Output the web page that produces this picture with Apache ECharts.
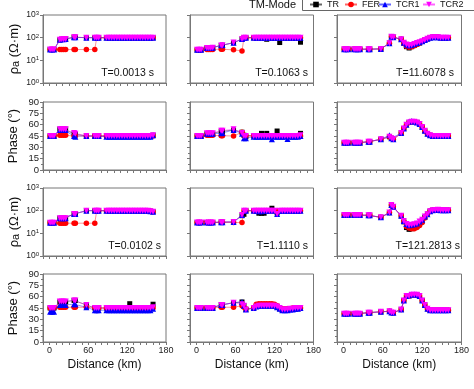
<!DOCTYPE html>
<html><head><meta charset="utf-8">
<script src="https://cdn.jsdelivr.net/npm/echarts@6/dist/echarts.min.js"></script>
<style>html,body{margin:0;padding:0;background:#fff}#c{width:474px;height:389px}</style>
</head><body><div id="c"></div>
<script>
const distance = [1,4,7,16,19,22,25,38,40,57,70,73,76,88,92,96,100,104,108,112,116,120,124,128,132,136,140,144,148,152,156,160];
const seriesNames = ['TR','FER','TCR1','TCR2'];
const periodLabels = ['T=0.0013 s','T=0.1063 s','T=11.6078 s','T=0.0102 s','T=1.1110 s','T=121.2813 s'];
const rhoTicks = [1,10,100,1000];
const phaseTicks = [0,15,30,45,60,75,90];
const distanceTicks = [0,60,120,180];

// ---- Apparent resistivity, T=0.0013 s
const rhoA_TR   = [30,30,30,80,85,85,88,104,104,100,100,100,100,100,100,100,100,100,100,100,100,100,100,100,100,100,100,100,100,100,100,100];
const rhoA_FER  = [30,30,30,30,30,30,30,30,30,30,30,100,100,100,100,100,100,100,100,100,100,100,100,100,100,100,100,100,100,100,100,100];
const rhoA_TCR1 = [30,30,30,80,85,85,88,104,104,100,100,100,100,100,100,100,100,100,100,100,100,100,100,100,100,100,100,100,100,100,100,100];
const rhoA_TCR2 = [30,30,30,80,85,85,88,105,105,100,100,100,100,100,100,100,100,100,100,100,100,100,100,100,100,100,100,100,100,100,100,100];
// ---- T=0.1063 s
const rhoB_TR   = [29,29,29,35,35,35,36,45,46,60,86,98,100,100,100,100,100,100,85,100,100,100,100,61,100,100,100,100,100,100,100,63];
const rhoB_FER  = [29,29,29,30,30,30,30,31,31,29,26,98,100,100,100,100,100,100,100,100,100,100,100,100,100,100,100,100,100,100,100,100];
const rhoB_TCR1 = [29,29,29,35,35,35,36,46,47,60,88,100,100,100,100,98,100,100,98,100,100,100,100,100,100,100,100,100,100,100,100,100];
const rhoB_TCR2 = [29,29,29,35,35,35,36,45,46,61,88,100,100,100,100,98,100,100,98,100,100,100,100,100,98,100,100,100,100,100,100,100];
// ---- T=11.6078 s
const rhoC_TR   = [31,31,31,31,31,31,31,31,31,32,57,110,105,85,58,40,35,40,46,52,58,68,78,90,100,105,105,105,100,100,100,100];
const rhoC_FER  = [31,31,31,31,31,31,31,31,31,32,57,110,105,85,55,42,38,40,44,50,58,68,78,90,100,105,105,105,100,100,100,100];
const rhoC_TCR1 = [31,31,31,31,31,31,31,31,31,32,57,110,105,85,60,50,45,48,52,58,62,70,78,90,100,105,105,105,100,100,100,100];
const rhoC_TCR2 = [31,31,31,31,31,31,31,31,31,32,57,110,105,85,60,50,45,48,52,58,62,70,78,90,100,105,105,105,100,100,100,100];
// ---- Phase, T=0.0013 s
const phD_TR   = [45,45,45,54,54,54,54,48,47,45,45,45,45,45,45,45,45,45,45,45,45,45,45,45,45,45,45,45,45,45,45,46];
const phD_FER  = [45,45,45,46,46,46,46,45,45,45,45,45,45,45,45,45,45,45,45,45,45,45,45,45,45,45,45,45,45,45,45,45];
const phD_TCR1 = [45,45,45,53,53,53,53,45,44,45,45,45,45,44,44,44,44,44,44,44,44,44,44,44,44,44,44,44,44,44,44,46];
const phD_TCR2 = [45,45,45,54,54,54,54,49,48,45,45,45,45,45,45,45,45,45,45,45,45,45,45,45,45,45,45,45,45,45,45,46];
// ---- Phase, T=0.1063 s
const phE_TR   = [45,45,45,48,48,48,48,51,51,53,50,46,44,45,45,45,48.5,45,48.5,45,45,45,51.6,45,45,45,45,45,45,45,45,48.5];
const phE_FER  = [45,45,45,46,46,46,46,45.4,45.4,45,50,46,45,45,45,45,45,45,45,45,45,45,45,45,45,45,45,45,45,45,45,45];
const phE_TCR1 = [45,45,45,48,48,48,48,48.5,49,53,48,42,42,44,44,44,44,44,44,44,40.6,44,44,44,44,44,41,44,44,44,44,45];
const phE_TCR2 = [45,45,45,48.5,48.5,48.5,48.5,52,52,54,49,45,45,45,45,45,45,45,45,45,45,45,45,45,45,45,45,45,45,45,45,46];
// ---- Phase, T=11.6078 s
const phF_TR   = [36,36,36,36,36,36,36,37.4,37.4,40.6,44,42,40.6,49,55,60,63,64,64,63,61,57,52,48,46,45,45,45,45,45,45,45];
const phF_FER  = [36,36,36,36,36,36,36,37.4,37.4,40.6,44,42,40.6,49,55,60,63,64,64,63,61,57,52,48,46,45,45,45,45,45,45,45];
const phF_TCR1 = [36,36,36,36,36,36,36,37.4,37.4,40.6,46,42,40.6,49,55,60,64,65,64,63,61,57,52,48,46,45,45,45,45,45,45,45];
const phF_TCR2 = [36,36,36,36,36,36,36,37.4,37.4,40.6,44,42,40.6,49,55,60,63,64,64,63,61,57,52,48,46,45,45,45,45,45,45,45];
// ---- Apparent resistivity, T=0.0102 s
const rhoG_TR   = [29.5,29.5,29.5,46,46,46,46,71,71,100,100,100,100,100,100,100,100,100,100,100,100,100,100,100,100,100,100,100,100,100,95,90];
const rhoG_FER  = [29,29,29,28,28,28,28,28,28,28,28,100,100,100,100,100,100,100,100,100,100,100,100,100,100,100,100,100,100,100,95,90];
const rhoG_TCR1 = [29.5,29.5,29.5,46,46,46,46,71,71,100,100,100,100,100,100,100,100,100,100,100,100,100,100,100,100,100,100,100,100,100,95,90];
const rhoG_TCR2 = [29.5,29.5,29.5,46,46,46,46,71,71,100,100,100,100,100,100,100,100,100,100,100,100,100,100,100,100,100,100,100,100,100,95,90];
// ---- T=1.1110 s
const rhoH_TR   = [30,30,30,30,30,30,30,31,31,32,60,69,100,100,100,77,77,77,100,100,128,100,80,100,100,100,100,100,100,100,100,100];
const rhoH_FER  = [30,30,30,30,30,30,30,31,31,30,30,100,100,100,100,100,100,100,100,100,100,100,100,100,100,100,100,100,100,100,100,100];
const rhoH_TCR1 = [30,30,30,30,30,30,30,31,31,32,64,100,100,100,100,95,95,100,100,100,105,100,72,100,100,100,100,100,100,100,100,100];
const rhoH_TCR2 = [30,30,30,30,30,30,30,31,31,32,64,100,100,100,100,100,100,100,100,100,100,100,72,100,100,100,100,100,100,100,100,100];
// ---- T=121.2813 s
const rhoI_TR   = [64,64,64,64,64,64,64,62,62,51,82,178,150,59,32,18,15,16,18,21,26,35,52,70,95,105,107,110,105,105,105,105];
const rhoI_FER  = [64,64,64,64,64,64,64,62,62,51,82,178,150,59,33,20,17,16,16,18,22,30,48,70,95,105,107,110,105,105,105,105];
const rhoI_TCR1 = [64,64,64,64,64,64,64,62,62,51,82,178,150,59,35,26,23,24,25,27,33,40,55,70,95,105,107,110,105,105,105,105];
const rhoI_TCR2 = [64,64,64,64,64,64,64,62,62,51,82,178,150,59,35,26,23,24,25,27,33,40,55,70,95,105,107,110,105,105,105,105];
// ---- Phase, T=0.0102 s
const phJ_TR   = [45,45,45,53,53,53,53,55,55,49,45,45,45,45,45,45,45,45,45,45,45,45,50.7,45,45,45,45,45,45,45,45,50];
const phJ_FER  = [45,45,45,46,46,46,46,46,46,46,45,45,45,45,45,45,45,45,45,45,45,45,45,45,45,45,45,45,45,45,45,45];
const phJ_TCR1 = [40,40,40,49,49,49,49,50,50,46,42,42,42,42,42,42,42,42,42,42,42,42,42,42,42,42,42,42,42,42,42,44];
const phJ_TCR2 = [45,45,45,53.7,53.7,53.7,53.7,55,55,49,45,45,45,45,45,45,45,45,45,45,45,45,45,45,45,45,45,45,45,45,45,46];
// ---- Phase, T=1.1110 s
const phK_TR   = [45,45,45,45,45,45,45,49,49,52,53,48,43,45,47,48,48,48,48,48,48,48,46,44,42,42,42,43,43,44,44,45];
const phK_FER  = [45,45,45,45,45,45,45,46,46,46,48,46,44,45,50,50.7,50.7,50.7,50.7,50.7,50.7,50,48,45,44,44,44,44,45,45,45,45];
const phK_TCR1 = [45,45,45,45,45,45,45,49,49,52,53,48,43,45,47,48,48,48,48,48,48,48,46,44,42,42,42,43,43,44,44,45];
const phK_TCR2 = [45,45,45,45,45,45,45,49,49,52,50,48,43,45,47,48,48,48,48,48,48,48,47,45,43,43,43,44,44,45,45,45];
// ---- Phase, T=121.2813 s
const phL_TR   = [37.5,37.5,37.5,37.5,37.5,37.5,37.5,38.8,38.8,40,40.6,39,38.8,43,55,61,61,62.6,62.6,62.6,61,55,49,44,42,42,42,42,42,42,42,42];
const phL_FER  = [37.5,37.5,37.5,37.5,37.5,37.5,37.5,38.8,38.8,40,40.6,39,38.8,43,55,61,61,62.6,62.6,62.6,61,55,49,44,42,42,42,42,42,42,42,42];
const phL_TCR1 = [37.5,37.5,37.5,37.5,37.5,37.5,37.5,38.8,38.8,40,40.6,39,38.8,43,55,61,62,63,63,62.6,61,55,49,44,42,42,42,42,42,42,42,42];
const phL_TCR2 = [37.5,37.5,37.5,37.5,37.5,37.5,37.5,38.8,38.8,40,40.6,39,38.8,43,55,61,61,62.6,62.6,62.6,61,55,49,44,42,42,42,42,42,42,42,42];

// ---- layout (not data)
const FONT = 'Liberation Sans, Arial, sans-serif';
const colLeft = [43, 190, 337];
const colWidth = [123, 123.5, 124.5];
const rowTop = [15, 102, 188, 274];
const rowH = 68;
const colors = ['#000000', '#ff0000', '#0000ff', '#ff00ff'];
const symbols = ['rect', 'circle', 'triangle', 'path://M0,0L10,0L5,10Z'];
const symSizes = [5, 5.5, 6, 6];

const panels = [
  {r:0,c:0,kind:'rho',lab:0,d:[rhoA_TR,rhoA_FER,rhoA_TCR1,rhoA_TCR2]},
  {r:0,c:1,kind:'rho',lab:1,d:[rhoB_TR,rhoB_FER,rhoB_TCR1,rhoB_TCR2]},
  {r:0,c:2,kind:'rho',lab:2,d:[rhoC_TR,rhoC_FER,rhoC_TCR1,rhoC_TCR2]},
  {r:1,c:0,kind:'ph',d:[phD_TR,phD_FER,phD_TCR1,phD_TCR2]},
  {r:1,c:1,kind:'ph',d:[phE_TR,phE_FER,phE_TCR1,phE_TCR2]},
  {r:1,c:2,kind:'ph',d:[phF_TR,phF_FER,phF_TCR1,phF_TCR2]},
  {r:2,c:0,kind:'rho',lab:3,d:[rhoG_TR,rhoG_FER,rhoG_TCR1,rhoG_TCR2]},
  {r:2,c:1,kind:'rho',lab:4,d:[rhoH_TR,rhoH_FER,rhoH_TCR1,rhoH_TCR2]},
  {r:2,c:2,kind:'rho',lab:5,d:[rhoI_TR,rhoI_FER,rhoI_TCR1,rhoI_TCR2]},
  {r:3,c:0,kind:'ph',d:[phJ_TR,phJ_FER,phJ_TCR1,phJ_TCR2]},
  {r:3,c:1,kind:'ph',d:[phK_TR,phK_FER,phK_TCR1,phK_TCR2]},
  {r:3,c:2,kind:'ph',d:[phL_TR,phL_FER,phL_TCR1,phL_TCR2]}
];
const labelRight = [[154,308,454],[161,308,460]];

const axisCol = '#777';
const grids = [], xAxes = [], yAxes = [], series = [], graphics = [];
panels.forEach((p, i) => {
  grids.push({left: colLeft[p.c], top: rowTop[p.r], width: colWidth[p.c], height: rowH,
    show: true, borderColor: axisCol, borderWidth: 1, backgroundColor: 'transparent'});
  const bottom = p.r === 3;
  xAxes.push({gridIndex: i, type: 'value', min: -10, max: 180, interval: 10,
    axisLine: {show: true, onZero: false, lineStyle: {color: axisCol, width: 1}},
    axisTick: {show: true, length: 3, interval: 0, lineStyle: {color: axisCol}},
    axisLabel: {show: bottom, interval: 0, showMaxLabel: true, showMinLabel: true, fontSize: 9, fontFamily: FONT, color: '#222', margin: 4,
      formatter: v => distanceTicks.indexOf(v) >= 0 ? String(v) : ''},
    splitLine: {show: false},
    name: bottom ? 'Distance (km)' : '', nameLocation: 'middle', nameGap: 17,
    nameTextStyle: {fontSize: 12, fontFamily: FONT, color: '#111'}});
  if (p.kind === 'rho') {
    yAxes.push({gridIndex: i, type: 'log', logBase: 10, min: rhoTicks[0], max: rhoTicks[rhoTicks.length-1], splitNumber: 3,
      axisLine: {show: true, onZero: false, lineStyle: {color: axisCol}},
      axisTick: {show: true, length: 3, lineStyle: {color: axisCol}},
      splitLine: {show: false},
      axisLabel: {show: p.c === 0, margin: 4, fontFamily: FONT,
        formatter: v => '{b|10}{s|' + Math.round(Math.log10(v)) + '}',
        rich: {b: {fontSize: 8.5, color: '#222', fontFamily: FONT, verticalAlign: 'bottom'},
               s: {fontSize: 6, color: '#222', fontFamily: FONT, verticalAlign: 'top'}}},
      name: p.c === 0 ? '{g|ρ}{s|a}{g| (Ω·m)}' : '', nameLocation: 'middle', nameRotate: 90, nameGap: 22,
      nameTextStyle: {fontSize: 13, fontFamily: FONT, color: '#111',
        rich: {g: {fontSize: 13, fontFamily: FONT, color: '#111'}, s: {fontSize: 11, fontFamily: FONT, color: '#111', verticalAlign: 'bottom'}}}});
  } else {
    yAxes.push({gridIndex: i, type: 'value', min: phaseTicks[0], max: phaseTicks[phaseTicks.length-1], interval: 15,
      axisLine: {show: true, onZero: false, lineStyle: {color: axisCol}},
      axisTick: {show: true, length: 3, lineStyle: {color: axisCol}},
      minorTick: {show: true, splitNumber: 2, length: 2, lineStyle: {color: axisCol}},
      splitLine: {show: false},
      axisLabel: {show: p.c === 0, margin: 4, fontSize: 9.5, fontFamily: FONT, color: '#222'},
      name: p.c === 0 ? 'Phase (°)' : '', nameLocation: 'middle', nameRotate: 90, nameGap: 23,
      nameTextStyle: {fontSize: 13, fontFamily: FONT, color: '#111'}});
  }
  p.d.forEach((arr, k) => {
    series.push({type: 'line', name: seriesNames[k], xAxisIndex: i, yAxisIndex: i,
      data: arr.map((v, j) => [distance[j], v]),
      symbol: symbols[k], symbolSize: symSizes[k], showSymbol: true,
      itemStyle: {color: colors[k]},
      lineStyle: {color: colors[k], width: 0.7, opacity: 0.6},
      emphasis: {disabled: true}, animation: false, z: 2 + k});
  });
  if (p.kind === 'rho') {
    const rr = p.r === 0 ? 0 : 1;
    graphics.push({type: 'text', z: 10, style: {text: periodLabels[p.lab], x: labelRight[rr][p.c], y: rowTop[p.r] + 58,
      fontSize: 10.5, fontFamily: FONT, fill: '#111', align: 'right', verticalAlign: 'middle', textAlign: 'right', textVerticalAlign: 'middle'}});
  }
});

graphics.push({type: 'rect', z: 0, shape: {x: 302.5, y: -1, width: 175, height: 11.5}, style: {fill: '#fff', stroke: '#666', lineWidth: 1}});
graphics.push({type: 'text', z: 10, style: {text: 'TM-Mode', x: 249, y: 5, fontSize: 11, fontFamily: FONT, fill: '#111',
  align: 'left', verticalAlign: 'middle', textAlign: 'left', textVerticalAlign: 'middle'}});

const legendLeft = [309, 344, 378, 422];
const legends = seriesNames.map((n, k) => ({data: [n], left: legendLeft[k], top: 0, padding: 0,
  itemWidth: 12, itemHeight: 7, itemGap: 0, selectedMode: false,
  textStyle: {fontSize: 9, fontFamily: FONT, color: '#111'}}));

const chart = echarts.init(document.getElementById('c'), null, {renderer: 'canvas'});
chart.setOption({animation: false, backgroundColor: '#fff', textStyle: {fontFamily: FONT},
  grid: grids, xAxis: xAxes, yAxis: yAxes, series: series, legend: legends, graphic: graphics});
</script></body></html>
